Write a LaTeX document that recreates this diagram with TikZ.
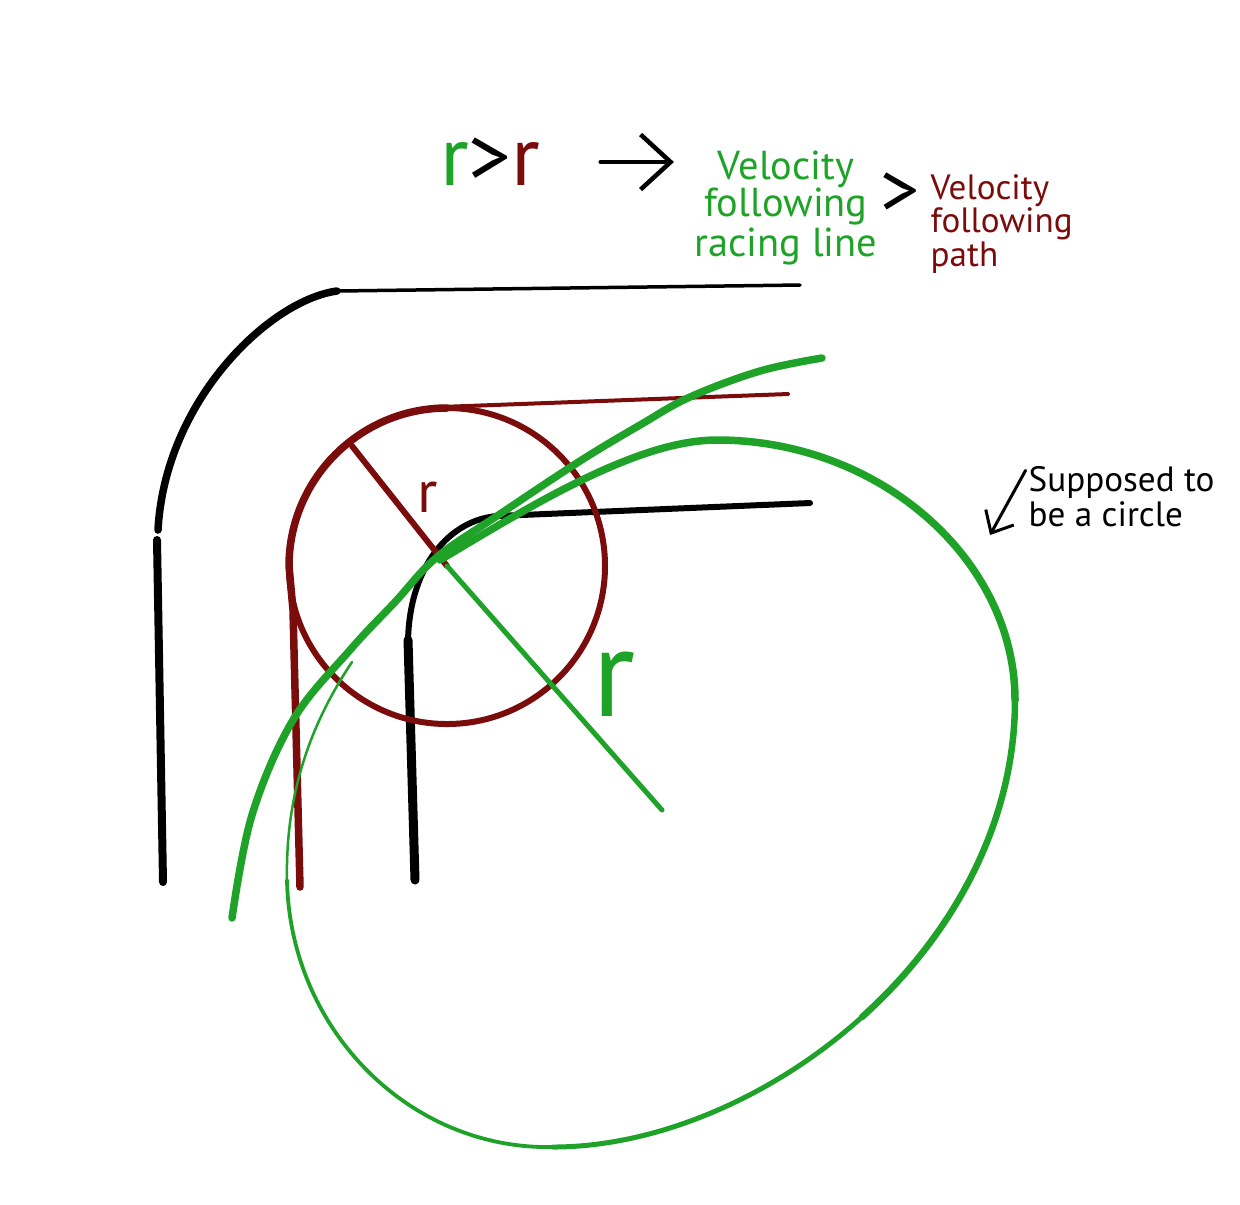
\documentclass[tikz,border=0pt]{standalone}
\usepackage{fontspec}
\setmainfont{PT Sans}
\usepackage{tikz}
\usetikzlibrary{arrows.meta, positioning}
\definecolor{verde}{RGB}{30, 162, 40}
\definecolor{granate}{RGB}{122, 12, 12}
\tikzset{
    track/.style={draw=black, line cap=round, line join=round},
    route/.style={draw=granate, line cap=round, line join=round},
    race/.style={draw=verde, line cap=round, line join=round},
    note/.style={inner sep=0pt, align=left},
    barb/.style={-{Straight Barb[length=3mm, width=5.5mm]}},
}

\begin{document}
\begin{tikzpicture}[x=0.1mm, y=-0.1mm]
    \useasboundingbox (0,0) rectangle (1240,1204);

    \coordinate (hub) at (447,566);
    \coordinate (rtip) at (352,446);
    \coordinate (gtip) at (662,810);
    \coordinate (hinttip) at (990,535);

    % outer edge of the track
    \draw[track, line width=0.35mm] (800,285) -- (337,291);
    \draw[track, line width=0.75mm] (337,291) .. controls (270,300) and (165,400) .. (158,530);
    \draw[track, line width=0.8mm] (157,540) -- (163,882);

    % inner edge of the track
    \draw[track, line width=0.6mm] (810,503) -- (497,516);
    \draw[track, line width=0.6mm] (497,516) .. controls (450,520) and (410,565) .. (408,640);
    \draw[track, line width=0.9mm] (408,640) -- (415,880);

    % path along the track
    \draw[route, line width=0.4mm] (788,394) -- (440,407);
    \draw[route, line width=0.75mm] (447,408) .. controls (360,408) and (289,479) .. (289,566)
        -- (293,610) -- (300,887);
    \draw[route, line width=0.6mm] (hub) circle[radius=158];
    \draw[route, line width=0.6mm] (rtip) -- (hub);
    \node[text=granate, font=\fontsize{17}{17}\selectfont] (rpath) at (428,497) {r};

    % racing line
    \draw[race, line width=0.75mm] plot[smooth, tension=0.6] coordinates {
        (232,918) (252,815) (293,720) (350,650) (395,602) (437,557) (500,514)
        (580,461) (640,425) (690,397) (760,371) (822,358)};
    \draw[race, line width=0.5mm] (hub) -- (gtip);
    \node[text=verde, font=\fontsize{36}{36}\selectfont] (rrace) at (614,684) {r};

    % the big circle, thinner as it goes round
    \draw[race, line width=0.75mm] (440,560) .. controls (540,500) and (640,440) .. (717,440)
        .. controls (880,440) and (1015,560) .. (1015,700);
    \draw[race, line width=0.65mm] (1015,700) .. controls (1015,825) and (951,937) .. (862,1017);
    \draw[race, line width=0.5mm] (862,1017) .. controls (772,1098) and (656,1147) .. (553,1147);
    \draw[race, line width=0.38mm] (553,1147) .. controls (410,1150) and (290,1030) .. (287,880);
    \draw[race, line width=0.25mm] (287,880) .. controls (285,780) and (320,710) .. (352,662);

    % labels on top
    \node[note, font=\fontsize{24}{24}\selectfont] (ineq) at (490,162)
        {\textcolor{verde}{r}>\textcolor{granate}{r}};
    \node[note, align=center, text=verde, font=\fontsize{11.5}{10.5}\selectfont] (vrace) at (786,208)
        {Velocity\\following\\racing line};
    \node[font=\fontsize{22}{22}\selectfont] (gt) at (900,195) {>};
    \node[note, anchor=west, text=granate, font=\fontsize{10}{9.5}\selectfont] (vpath) at (930,224)
        {Velocity\\following\\path};
    \draw[track, line width=0.45mm, barb, shorten <=6mm, shorten >=2mm]
        (ineq.east) -- (ineq.east -| vrace.west);

    \node[note, anchor=west, font=\fontsize{10}{10}\selectfont] (hint) at (1028,497)
        {Supposed to\\be a circle};
    \draw[track, line width=0.3mm, -{Straight Barb[length=1.8mm, width=3.2mm]}, shorten <=0.5mm]
        (hint.north west) -- (hinttip);
\end{tikzpicture}
\end{document}
